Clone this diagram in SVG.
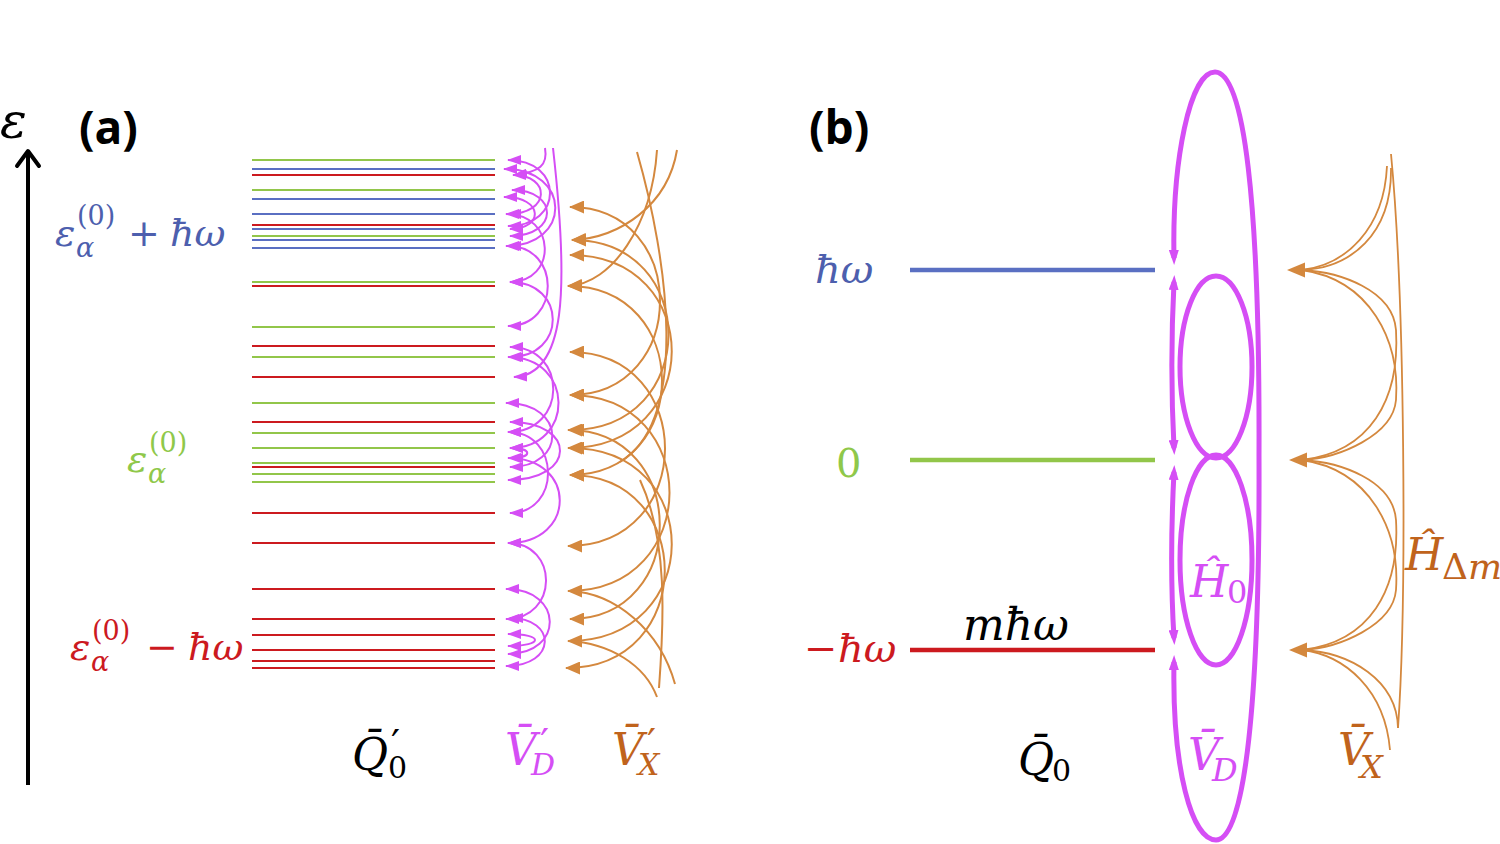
<svg xmlns="http://www.w3.org/2000/svg" width="1500" height="844" viewBox="0 0 1500 844">
<style>
.m{font-family:"DejaVu Serif","Liberation Serif",serif;font-style:italic}
.u{font-style:normal}
.lb{font-family:"Open Sans","Liberation Sans",sans-serif;font-weight:bold}
.gl{stroke:#92c64a;stroke-width:2.2}
.bl{stroke:#5a6fc2;stroke-width:2.2}
.rl{stroke:#cc1a1f;stroke-width:2.2}
.ma{fill:none;stroke:#d54ef5;stroke-width:2;marker-start:url(#mA);marker-end:url(#mA)}
.ms{fill:none;stroke:#d54ef5;stroke-width:2;marker-start:url(#mA)}
.oa{fill:none;stroke:#d4883e;stroke-width:2;marker-start:url(#oA);marker-end:url(#oA)}
.os{fill:none;stroke:#d4883e;stroke-width:2;marker-start:url(#oA)}
.on{fill:none;stroke:#d4883e;stroke-width:2}
.bm{fill:none;stroke:#d54ef5;stroke-width:5}
.bo{fill:none;stroke:#d4883e;stroke-width:1.8}
</style>
<defs>
<marker id="mA" viewBox="0 0 14 10" refX="13" refY="5" markerWidth="14" markerHeight="10" markerUnits="userSpaceOnUse" orient="auto-start-reverse"><path d="M0,0 L14,5 L0,10 z" fill="#d54ef5"/></marker>
<marker id="oA" viewBox="0 0 15 13" refX="14" refY="6.5" markerWidth="15" markerHeight="13" markerUnits="userSpaceOnUse" orient="auto-start-reverse"><path d="M0,0 L15,6.5 L0,13 z" fill="#d4883e"/></marker>
<marker id="bA" viewBox="0 0 15 10" refX="8" refY="5" markerWidth="15" markerHeight="10" markerUnits="userSpaceOnUse" orient="auto-start-reverse"><path d="M0,0 L15,5 L0,10 z" fill="#d54ef5"/></marker>
<path id="oHead" d="M0,0 L18,-7.5 L18,7.5 z" fill="#d4883e"/>
</defs>

<!-- axis -->
<g id="axis">
<line x1="28" y1="785" x2="28" y2="152" stroke="#000" stroke-width="4"/>
<polyline points="17,166 28,151 39,166" fill="none" stroke="#000" stroke-width="4" stroke-linecap="round" stroke-linejoin="round"/>
<text class="m" x="0" y="138" font-size="50" fill="#000">ε</text>
</g>

<g id="panel-a-label"><text class="lb" x="79" y="144" font-size="46" fill="#000">(a)</text></g>
<g id="panel-b-label"><text class="lb" x="809" y="144" font-size="46" fill="#000">(b)</text></g>

<!-- panel (a) labels -->
<g id="label-a-plus">
<text class="m" fill="#4d5fae" font-size="38"><tspan x="55" y="246">ε</tspan><tspan x="76" y="257" font-size="27">α</tspan><tspan x="77" y="225" font-size="27" class="u">(0)</tspan><tspan x="128" y="246" class="u">+</tspan><tspan x="170" y="246">ħω</tspan></text>
</g>
<g id="label-a-zero">
<text class="m" fill="#8fc84a" font-size="38"><tspan x="127" y="472">ε</tspan><tspan x="148" y="483" font-size="27">α</tspan><tspan x="149" y="452" font-size="27" class="u">(0)</tspan></text>
</g>
<g id="label-a-minus">
<text class="m" fill="#cc1a1f" font-size="38"><tspan x="70" y="660">ε</tspan><tspan x="91" y="671" font-size="27">α</tspan><tspan x="92" y="640" font-size="27" class="u">(0)</tspan><tspan x="146" y="660" class="u">−</tspan><tspan x="188" y="660">ħω</tspan></text>
</g>

<!-- panel (a) levels -->
<g id="levels-a">
<line class="gl" x1="252" y1="160" x2="495" y2="160"/>
<line class="bl" x1="252" y1="169" x2="495" y2="169"/>
<line class="rl" x1="252" y1="175" x2="495" y2="175"/>
<line class="gl" x1="252" y1="190" x2="495" y2="190"/>
<line class="bl" x1="252" y1="199" x2="495" y2="199"/>
<line class="bl" x1="252" y1="214" x2="495" y2="214"/>
<line class="rl" x1="252" y1="225" x2="495" y2="225"/>
<line class="bl" x1="252" y1="229" x2="495" y2="229"/>
<line class="gl" x1="252" y1="236" x2="495" y2="236"/>
<line class="bl" x1="252" y1="240" x2="495" y2="240"/>
<line class="bl" x1="252" y1="248" x2="495" y2="248"/>
<line class="gl" x1="252" y1="282" x2="495" y2="282"/>
<line class="rl" x1="252" y1="286" x2="495" y2="286"/>
<line class="gl" x1="252" y1="327" x2="495" y2="327"/>
<line class="rl" x1="252" y1="346" x2="495" y2="346"/>
<line class="gl" x1="252" y1="357" x2="495" y2="357"/>
<line class="rl" x1="252" y1="377" x2="495" y2="377"/>
<line class="gl" x1="252" y1="403" x2="495" y2="403"/>
<line class="rl" x1="252" y1="422" x2="495" y2="422"/>
<line class="gl" x1="252" y1="433" x2="495" y2="433"/>
<line class="gl" x1="252" y1="448" x2="495" y2="448"/>
<line class="gl" x1="252" y1="463" x2="495" y2="463"/>
<line class="rl" x1="252" y1="467" x2="495" y2="467"/>
<line class="gl" x1="252" y1="474" x2="495" y2="474"/>
<line class="gl" x1="252" y1="482" x2="495" y2="482"/>
<line class="rl" x1="252" y1="513" x2="495" y2="513"/>
<line class="rl" x1="252" y1="543" x2="495" y2="543"/>
<line class="rl" x1="252" y1="589" x2="495" y2="589"/>
<line class="rl" x1="252" y1="619" x2="495" y2="619"/>
<line class="rl" x1="252" y1="635" x2="495" y2="635"/>
<line class="rl" x1="252" y1="650" x2="495" y2="650"/>
<line class="rl" x1="252" y1="661" x2="495" y2="661"/>
<line class="rl" x1="252" y1="668" x2="495" y2="668"/>
</g>

<!-- panel (a) connectors -->
<g id="connectors-a">
<path class="ma" d="M508 160 C564 160,564 226,508 226"/>
<path class="ma" d="M504 169 C572 169,572 246,506 246"/>
<path class="ma" d="M513 175 C551 175,551 214,508 214"/>
<path class="ma" d="M512 190 C559 190,559 236,510 236"/>
<path class="ma" d="M504 197 C544 197,544 229,510 229"/>
<path class="ma" d="M506 214 C557 214,557 282,510 282"/>
<path class="ma" d="M508 246 C561 246,561 326,508 326"/>
<path class="ma" d="M510 282 C567 282,567 357,510 357"/>
<path class="ms" d="M514 377 C566 375,569 290,553 148"/>
<path class="ms" d="M514 175 C540 172,548 165,545 148"/>
<path class="ma" d="M510 347 C568 347,568 432,508 432"/>
<path class="ma" d="M508 357 C575 357,575 448,510 448"/>
<path class="ma" d="M506 403 C567 403,567 467,510 467"/>
<path class="ma" d="M510 422 C577 422,577 480,508 480"/>
<path class="ma" d="M510 448 C533 448,533 458,510 458"/>
<path class="ma" d="M508 432 C561 432,561 513,510 513"/>
<path class="ma" d="M508 458 C577 458,577 543,508 543"/>
<path class="ma" d="M508 543 C559 543,559 619,506 619"/>
<path class="ma" d="M506 589 C564 589,564 654,508 654"/>
<path class="ma" d="M508 634 C544 634,544 646,508 646"/>
<path class="ma" d="M510 618 C557 618,557 666,506 666"/>

<path class="oa" d="M570 207 C690 207,690 395,570 395"/>
<path class="oa" d="M572 240 C701 240,701 430,570 430"/>
<path class="oa" d="M570 255 C706 255,706 448,568 448"/>
<path class="oa" d="M568 286 C693 286,693 475,570 475"/>
<path class="oa" d="M570 352 C697 352,697 546,568 546"/>
<path class="oa" d="M570 395 C703 395,703 591,568 591"/>
<path class="oa" d="M568 430 C690 430,690 619,570 619"/>
<path class="oa" d="M570 448 C706 448,706 641,568 641"/>
<path class="oa" d="M570 475 C697 475,697 668,566 668"/>
<path class="os" d="M572 240 C620 238,668 205,677 150"/>
<path class="os" d="M568 286 C612 284,652 225,657 150"/>
<path class="on" d="M637 152 C668 260,690 420,620 462"/>
<path class="on" d="M570 591 C615 593,660 630,675 684"/>
<path class="on" d="M568 641 C610 643,645 665,657 697"/>
<path class="on" d="M659 688 C664 620,668 540,640 480"/>
</g>

<!-- panel (a) operator labels -->
<g id="label-Q0p"><text class="m" font-size="44" fill="#000"><tspan x="352" y="770">Q̄</tspan><tspan x="391" y="758" font-size="40" class="u">′</tspan><tspan x="388" y="778" font-size="30" class="u">0</tspan></text></g>
<g id="label-VDp"><text class="m" font-size="44" fill="#d54ef5"><tspan x="505" y="765">V̄</tspan><tspan x="540" y="757" font-size="40" class="u">′</tspan><tspan x="531" y="775" font-size="30">D</tspan></text></g>
<g id="label-VXp"><text class="m" font-size="44" fill="#c0631c"><tspan x="612" y="765">V̄</tspan><tspan x="647" y="757" font-size="40" class="u">′</tspan><tspan x="638" y="775" font-size="30">X</tspan></text></g>

<!-- panel (b) -->
<g id="level-b-plus">
<line x1="910" y1="270" x2="1155" y2="270" stroke="#5a6fc2" stroke-width="4.5"/>
<text class="m" x="815" y="283" font-size="40" fill="#4d5fae">ħω</text>
</g>
<g id="level-b-zero">
<line x1="910" y1="460" x2="1155" y2="460" stroke="#92c64a" stroke-width="4.5"/>
<text class="m u" x="836" y="477" font-size="40" fill="#8fc84a">0</text>
</g>
<g id="level-b-minus">
<line x1="910" y1="650" x2="1155" y2="650" stroke="#cc1a1f" stroke-width="4.5"/>
<text class="m" font-size="40" fill="#cc1a1f"><tspan x="804" y="662" class="u">−</tspan><tspan x="838" y="662">ħω</tspan></text>
<text class="m" x="963" y="640" font-size="44" fill="#000">mħω</text>
</g>
<g id="label-Q0"><text class="m" font-size="44" fill="#000"><tspan x="1018" y="775">Q̄</tspan><tspan x="1052" y="781" font-size="30" class="u">0</tspan></text></g>

<g id="connectors-b">
<path class="bm" marker-start="url(#bA)" marker-end="url(#bA)" d="M1174 662 C1172 770,1192 840,1216 840 C1245 840,1260 700,1259 456 C1260 200,1244 72,1215 72 C1190 72,1172 160,1174 258"/>
<path class="bm" marker-start="url(#bA)" marker-end="url(#bA)" d="M1174 282 C1171 340,1171 390,1174 448"/>
<path class="bm" marker-start="url(#bA)" marker-end="url(#bA)" d="M1174 472 C1171 530,1171 590,1174 638"/>
<ellipse class="bm" cx="1216" cy="367" rx="36" ry="91"/>
<ellipse class="bm" cx="1216" cy="560" rx="36" ry="105"/>

<use href="#oHead" x="1287" y="270"/>
<use href="#oHead" x="1289" y="460"/>
<use href="#oHead" x="1289" y="650"/>
<path class="bo" d="M1302 270 C1370 280,1400 340,1396 400 C1393 435,1340 458,1302 460"/>
<path class="bo" d="M1302 270 C1340 272,1393 290,1396 330 C1400 400,1370 452,1302 460"/>
<path class="bo" d="M1302 460 C1370 470,1400 530,1396 590 C1393 625,1340 648,1302 650"/>
<path class="bo" d="M1302 460 C1340 462,1393 480,1396 520 C1400 590,1370 642,1302 650"/>
<path class="bo" d="M1302 270 C1345 265,1384 230,1387 166"/>
<path class="bo" d="M1302 270 C1350 268,1392 235,1391 168"/>
<path class="bo" d="M1302 650 C1345 655,1385 690,1390 750"/>
<path class="bo" d="M1302 650 C1350 652,1397 680,1398 728"/>
<path class="bo" d="M1391 154 C1405 300,1407 600,1398 728"/>
</g>

<g id="label-H0"><text class="m" font-size="44" fill="#d54ef5"><tspan x="1190" y="597">Ĥ</tspan><tspan x="1227" y="603" font-size="32" class="u">0</tspan></text></g>
<g id="label-VD"><text class="m" font-size="44" fill="#d54ef5"><tspan x="1188" y="770">V̄</tspan><tspan x="1212" y="781" font-size="32">D</tspan></text></g>
<g id="label-VX"><text class="m" font-size="44" fill="#c0631c"><tspan x="1338" y="765">V̄</tspan><tspan x="1360" y="778" font-size="32">X</tspan></text></g>
<g id="label-HDm"><text class="m" font-size="44" fill="#c0631c"><tspan x="1405" y="570">Ĥ</tspan><tspan x="1442" y="579" font-size="36" class="u">Δ</tspan><tspan x="1468" y="579" font-size="36">m</tspan></text></g>
</svg>
